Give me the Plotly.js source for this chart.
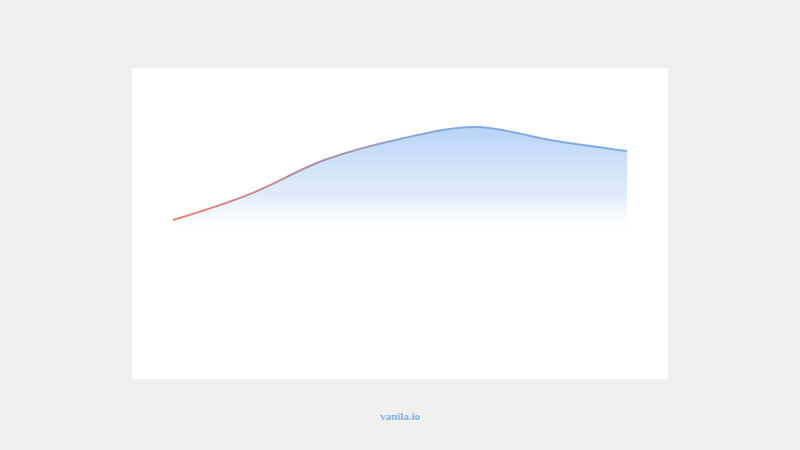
<!DOCTYPE html>
<html>
<head>
<meta charset="utf-8">
<script src="https://cdn.plot.ly/plotly-3.0.1.min.js"></script>
<style>
  html, body { margin: 0; padding: 0; background: #f0f0f0; }
  #chart { width: 800px; height: 450px; }
</style>
</head>
<body>
<div id="chart"></div>
<script>
// Data
const categories = [0, 1, 2, 3, 4, 5, 6];
const values = [51.1, 59.3, 70.4, 77.2, 81.0, 76.8, 73.3];
const brand = 'vanila.io';

const trace = {
  x: categories,
  y: values,
  type: 'scatter',
  mode: 'lines',
  line: { shape: 'spline', smoothing: 1, width: 2, color: '#7aa8e2' },
  fill: 'tozeroy',
  fillcolor: 'rgba(0,0,0,0)',
  fillgradient: {
    type: 'vertical',
    start: 46,
    stop: 82,
    colorscale: [
      [0, 'rgba(255,255,255,0)'],
      [0.35, 'rgba(200,222,250,0.55)'],
      [1, 'rgba(178,208,246,0.95)']
    ]
  },
  hoverinfo: 'skip'
};

const layout = {
  width: 800,
  height: 450,
  paper_bgcolor: '#f0f0f0',
  plot_bgcolor: '#ffffff',
  margin: { l: 132, r: 132, t: 68, b: 71 },
  showlegend: false,
  xaxis: { range: [-0.542, 6.542], visible: false, showgrid: false, zeroline: false, fixedrange: true },
  yaxis: { range: [0, 100], visible: false, showgrid: false, zeroline: false, fixedrange: true },
  annotations: [{
    text: '<b>' + brand + '</b>',
    xref: 'paper', yref: 'paper',
    x: 0.5, y: -0.118,
    xanchor: 'center', yanchor: 'middle',
    showarrow: false,
    font: { family: 'Liberation Serif, Times New Roman, serif', size: 11, color: '#7fb2ea' }
  }]
};

Plotly.newPlot('chart', [trace], layout, { displayModeBar: false, staticPlot: true }).then(function (gd) {
  const svg = gd.querySelector('svg.main-svg');
  const ns = 'http://www.w3.org/2000/svg';
  let defs = svg.querySelector('defs');
  if (!defs) { defs = document.createElementNS(ns, 'defs'); svg.insertBefore(defs, svg.firstChild); }
  const lg = document.createElementNS(ns, 'linearGradient');
  lg.setAttribute('id', 'lineGrad');
  lg.setAttribute('x1', '0'); lg.setAttribute('y1', '0');
  lg.setAttribute('x2', '1'); lg.setAttribute('y2', '0');
  [[0, '#ee7f6b'], [0.3, '#b48e9e'], [0.55, '#88a8dc'], [1, '#7eacE6']].forEach(function (s) {
    const st = document.createElementNS(ns, 'stop');
    st.setAttribute('offset', s[0]);
    st.setAttribute('stop-color', s[1]);
    lg.appendChild(st);
  });
  defs.appendChild(lg);
  gd.querySelectorAll('.scatterlayer .js-line').forEach(function (p) {
    p.style.stroke = 'url(#lineGrad)';
  });
});
</script>
</body>
</html>
